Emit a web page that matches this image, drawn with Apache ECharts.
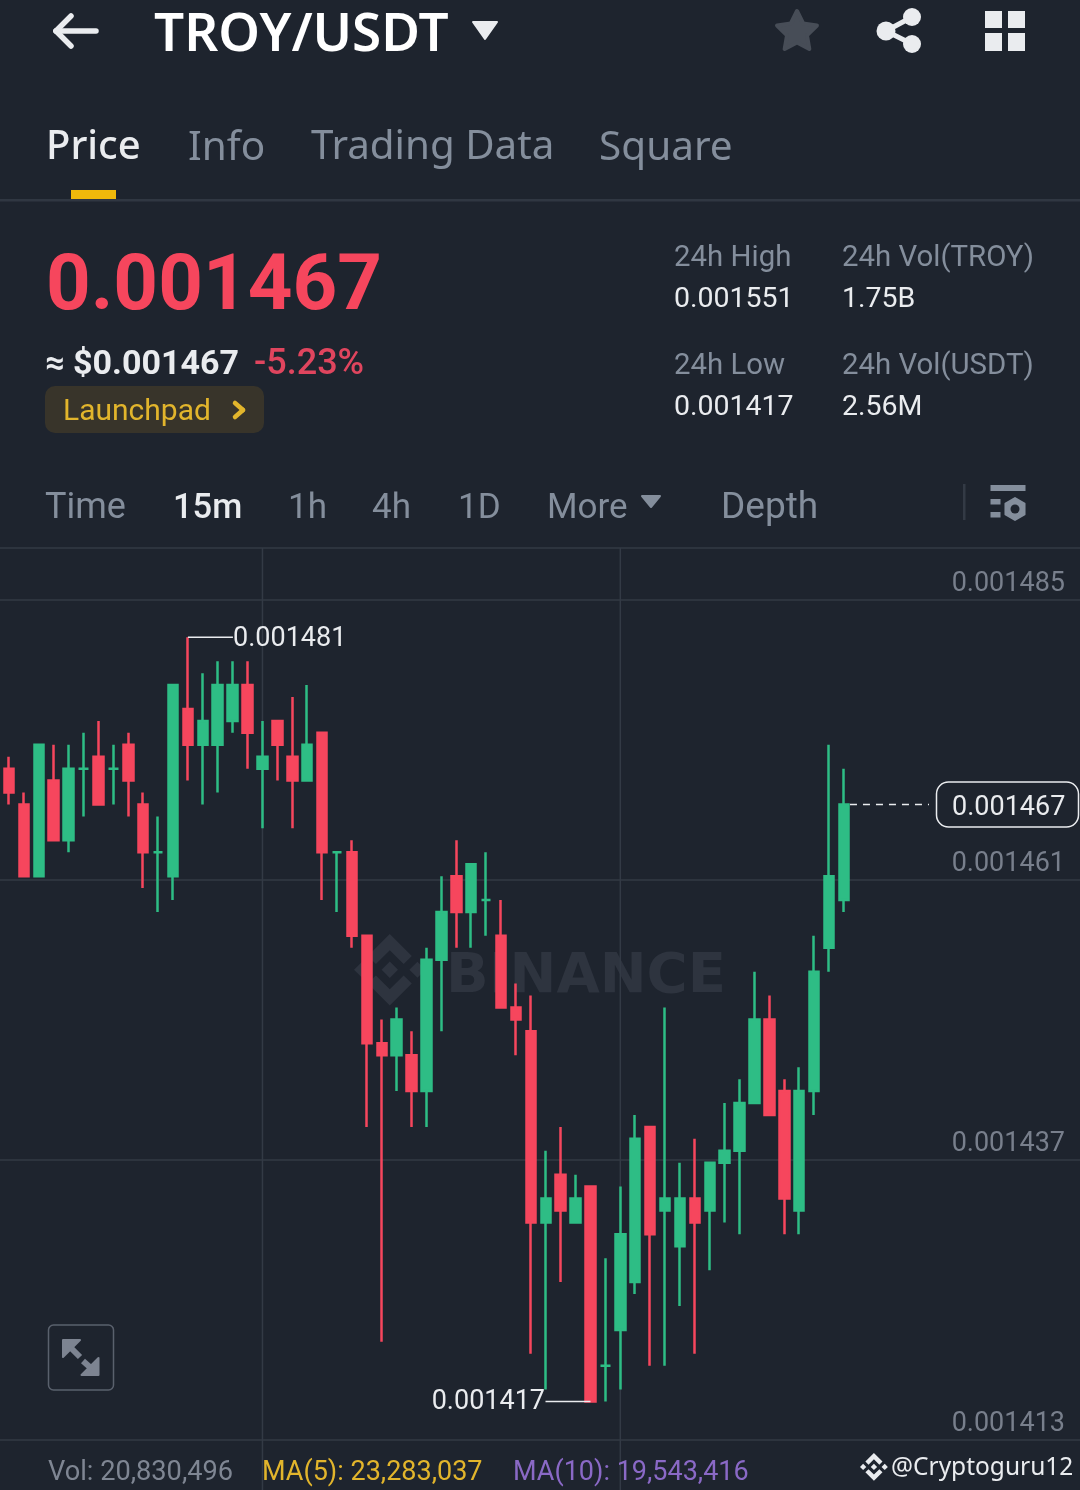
<!DOCTYPE html>
<html><head><meta charset="utf-8">
<style>html,body{margin:0;padding:0;background:#1E242E}#c{width:1080px;height:1490px}</style>
<script src="https://cdn.jsdelivr.net/npm/echarts@6/dist/echarts.min.js"></script>
</head><body><div id="c"></div>
<script>
// Prices in millionths of USDT (1470 = 0.001470), one entry per 15m candle.
const opens  = [1470,1467,1461,1469,1464,1470,1471,1470,1472,1467,1463,1461,1475,1472,1472,1474,1477,1470,1474,1471,1469,1473,1463,1463,1456,1447,1446,1446,1443,1454,1461,1458,1459,1456,1450,1448,1432,1436,1432,1435,1420,1423,1427,1440,1433,1430,1434,1433,1437,1438,1442,1449,1443,1433,1443,1455,1459];
const closes = [1468,1461,1472,1464,1470,1470,1467,1470,1469,1463,1463,1477,1472,1474,1477,1477,1473,1471,1472,1469,1472,1463,1463,1456,1447,1446,1449,1443,1454,1458,1458,1462,1459,1450,1449,1432,1434,1433,1434,1417,1420,1431,1439,1431,1434,1434,1432,1437,1438,1442,1449,1441,1434,1443,1453,1461,1467];
const lows   = [1467,1461,1461,1464,1463,1466,1467,1467,1466,1460,1458,1459,1469,1467,1468,1473,1470,1465,1469,1465,1469,1459,1458,1455,1440,1422,1443,1440,1440,1448,1455,1455,1456,1450,1446,1421,1418,1427,1432,1417,1417,1418,1426,1420,1420,1425,1421,1428,1432,1431,1442,1441,1431,1431,1441,1453,1458];
const highs  = [1471,1468,1472,1472,1472,1473,1474,1472,1473,1468,1466,1477,1481,1478,1479,1479,1479,1474,1474,1476,1477,1473,1463,1464,1456,1449,1450,1448,1455,1461,1464,1462,1463,1459,1452,1451,1438,1440,1436,1435,1429,1435,1441,1440,1450,1437,1439,1437,1442,1444,1453,1451,1444,1445,1456,1472,1470];
const tickLabels = ['0.001413','0.001437','0.001461','0.001485'];
const verticalGridCandles = [17, 41];
const tabs = [['Price',46,'#EAECEF',40],['Info',188,'#848E9C',40.5],['Trading Data',311,'#848E9C',40.3],['Square',599,'#848E9C',40.5]];
const intervals = [['Time',45,'#848E9C',400,36],['15m',173,'#EAECEF',500,34.5],['1h',288,'#848E9C',400,35],['4h',372,'#848E9C',400,35],['1D',458,'#848E9C',400,35],['More',547,'#848E9C',400,35],['Depth',721,'#848E9C',400,37]];

const BG='#1E242E', RED='#F6465D', GREEN='#2EBD85', LINE='#333A45', WHITE='#EAECEF', GREY='#848E9C', AXIS='#787F8C', YEL='#E2B52C';
const SANS='"Noto Sans"', NUM='Roboto';
const LOGO_SHAPES=[
 [[38.73,53.2],[63.32,28.62],[87.92,53.22],[102.22,38.91],[63.32,0],[24.43,38.9]],
 [[0,63.31],[14.3,49],[28.61,63.31],[14.3,77.61]],
 [[38.73,73.41],[63.32,98],[87.92,73.4],[102.23,87.69],[63.33,126.6],[24.42,87.72]],
 [[98,63.31],[112.3,49],[126.61,63.3],[112.3,77.6]],
 [[77.83,63.3],[63.32,48.78],[48.81,63.28],[63.32,77.78]]];

const chart = echarts.init(document.getElementById('c'), null, {width:1080,height:1490});
const PAD = 1; // one empty band left of the first candle
const rows = opens.map((o,i)=>[i+PAD,o,closes[i],lows[i],highs[i]]);
const cats = Array.from({length:74},(_,i)=>String(i));
const yMin=1413.82, yStep=23.45, yMax=1488.48;

chart.setOption({
  animation:false, backgroundColor:BG,
  grid:{left:-13.36,top:548,width:1103.34,height:891.5,containLabel:false,outerBoundsMode:'none'},
  xAxis:{type:'category',data:cats,boundaryGap:true,axisLine:{show:false},axisTick:{show:false},axisLabel:{show:false},splitLine:{show:false}},
  yAxis:{type:'value',position:'right',min:yMin,max:yMax,interval:yStep,scale:true,
    axisLine:{show:false},axisTick:{show:false},
    splitLine:{show:true,lineStyle:{color:LINE,width:1.5}},
    axisLabel:{inside:true,margin:25,showMinLabel:true,showMaxLabel:false,hideOverlap:false,color:AXIS,fontFamily:NUM,fontSize:27,
      verticalAlign:'bottom',lineHeight:31,formatter:(v,i)=>tickLabels[i]||''}},
  series:[{type:'candlestick',data:rows,encode:{x:0,y:[1,2,3,4]},barWidth:10,z:2,silent:true,clip:false,
    itemStyle:{color:GREEN,color0:RED,borderColor:GREEN,borderColor0:RED,borderColorDoji:GREEN,borderWidth:2.5}}]
});

const px=(i,v)=>chart.convertToPixel({gridIndex:0},[i+PAD,v]);
const T=(x,y,text,size,fill,weight,family,align)=>({type:'text',x,y,z:10,silent:true,style:{text,fill,fontSize:size,fontWeight:weight||400,fontFamily:family||SANS,textAlign:align||'left',textVerticalAlign:'middle'}});
const L=(x1,y1,x2,y2,stroke,w,extra)=>({type:'line',z:10,silent:true,shape:{x1,y1,x2,y2},style:Object.assign({stroke,lineWidth:w,lineCap:'round'},extra||{})});
const R=(x,y,w,h,fill,r)=>({type:'rect',z:10,silent:true,shape:{x,y,width:w,height:h,r:r||0},style:{fill}});
const P=(pts,fill,lw)=>({type:'polygon',z:10,silent:true,shape:{points:pts},style:{fill,stroke:fill,lineWidth:lw==null?2:lw,lineJoin:'round'}});
const C=(cx,cy,r,fill)=>({type:'circle',z:10,silent:true,shape:{cx,cy,r},style:{fill}});
const Logo=(x,y,s,fill,z)=>LOGO_SHAPES.map(sh=>({type:'polygon',z,silent:true,shape:{points:sh.map(p=>[x+p[0]*s,y+p[1]*s])},style:{fill}}));

const star=[];for(let k=0;k<10;k++){const r=k%2?10.5:21,a=-Math.PI/2+k*Math.PI/5;star.push([797+r*Math.cos(a),32+r*Math.sin(a)]);}
const hex=[];for(let k=0;k<6;k++){const a=-Math.PI/2+k*Math.PI/3;hex.push([1015+11*Math.cos(a),509+11*Math.sin(a)]);}

const hiVal=Math.max(...highs), hiIdx=highs.indexOf(hiVal), hiP=px(hiIdx,hiVal);
const loVal=Math.min(...lows), loIdx=lows.indexOf(loVal), loP=px(loIdx,loVal);
const lastIdx=closes.length-1, lastP=px(lastIdx,closes[lastIdx]);
const fmt=v=>(v/1e6).toFixed(6);

const g=[];
// watermark and vertical grid lines (below the candles)
g.push(...Logo(354,934,0.565,'#2E343F',0));
g.push(Object.assign(T(446,977,'BINANCE',56,'#2E343F',700,'"DejaVu Sans"'),{z:0}));
verticalGridCandles.forEach(i=>{const x=px(i,yMin)[0];g.push(Object.assign(L(x,548,x,1490,LINE,1.5,{lineCap:'butt'}),{z:0}));});

// header
g.push(L(56,31,96,31,WHITE,5.5),L(71,16,56,31,WHITE,5.5),L(56,31,71,46,WHITE,5.5));
g.push(T(154,36,'TROY/USDT',53,'#FFFFFF',600));
g.push(P([[473,22],[497,22],[485,39]],WHITE));
g.push(P(star,'#474D57',4));
g.push(L(912,17,886,31,WHITE,5),L(886,31,912,44,WHITE,5),C(912,17,9,WHITE),C(886,31,9.5,WHITE),C(912,44,9,WHITE));
g.push(R(985,11,17,17,WHITE),R(1008,11,17,17,WHITE),R(985,33,17,18,WHITE),R(1008,33,17,18,WHITE));
tabs.forEach(t=>g.push(T(t[1],148,t[0],t[3],t[2],t[0]==='Price'?500:400)));
g.push(R(0,199,1080,2.5,'#303742'),R(71,190,45,9,'#F0B90B'));

// price block
g.push(T(46,289,'0.001467',78,RED,700,NUM));
g.push(T(45,365,'≈ $0.001467',34,WHITE,700,NUM));
g.push(T(254,365,'-5.23%',36,'#E0455E',500,NUM));
g.push(R(45,386,219,47,'#38342A',10));
g.push(T(63,412,'Launchpad',30,YEL,400,NUM));
g.push(L(235,403,243,410,YEL,4.5),L(243,410,235,417,YEL,4.5));
[[674,'24h High','0.001551',259,300],[842,'24h Vol(TROY)','1.75B',259,300],[674,'24h Low','0.001417',367,408],[842,'24h Vol(USDT)','2.56M',367,408]].forEach(s=>{
  g.push(T(s[0],s[3],s[1],29.4,GREY,400,NUM),T(s[0],s[4],s[2],28.5,WHITE,400,NUM));
});

// interval bar
intervals.forEach(t=>g.push(T(t[1],509,t[0],t[4],t[2],t[3],NUM)));
g.push(P([[642,496],[660,496],[651,507]],GREY));
g.push(R(963,484,2.5,36,'#333A45'));
g.push(R(990.5,485,35,6,GREY),R(990.5,499,10,5.5,GREY),R(990.5,512,10,5.5,GREY),P(hex,GREY),C(1015,509,4.5,BG));

// expand button
g.push({type:'rect',z:10,silent:true,shape:{x:48.5,y:1325,width:65,height:65,r:5},style:{fill:'none',stroke:'#5A616D',lineWidth:1.5}});
g.push(P([[63,1340],[80,1340],[63,1357]],'#7D8491'),P([[98.5,1375],[81.5,1375],[98.5,1358]],'#7D8491'));
g.push(L(70,1347,80,1357,'#7D8491',6,{lineCap:'butt'}),L(83,1361,92,1369,'#7D8491',6,{lineCap:'butt'}));

// data annotations, anchored on the data through the axes
g.push(L(hiP[0],hiP[1],hiP[0]+45,hiP[1],WHITE,1.5,{lineCap:'butt'}),T(233,hiP[1]+2,fmt(hiVal),27,WHITE,400,NUM));
g.push(L(loP[0],loP[1],loP[0]-45,loP[1],WHITE,1.5,{lineCap:'butt'}),T(545,loP[1]+1,fmt(loVal),27,WHITE,400,NUM,'right'));
g.push(L(lastP[0]+6,lastP[1],929,lastP[1],WHITE,1.5,{lineCap:'butt',lineDash:[7,6]}));
g.push({type:'rect',z:10,silent:true,shape:{x:936.5,y:lastP[1]-22.5,width:142,height:45,r:12},style:{fill:BG,stroke:WHITE,lineWidth:1.5}});
g.push(T(952,lastP[1]+4,fmt(closes[lastIdx]),27,WHITE,400,NUM));

// footer
g.push(T(48,1473,'Vol: 20,830,496',27.2,'#7F8693',400,NUM));
g.push(T(262,1473,'MA(5): 23,283,037',27,YEL,400,NUM));
g.push(T(513,1473,'MA(10): 19,543,416',27,'#8A69C6',400,NUM));
g.push(...Logo(860,1453,0.22,WHITE,10));
g.push(T(891,1468,'@Cryptoguru12',24.5,WHITE,400,SANS));

chart.setOption({graphic:{elements:g}});
</script></body></html>
